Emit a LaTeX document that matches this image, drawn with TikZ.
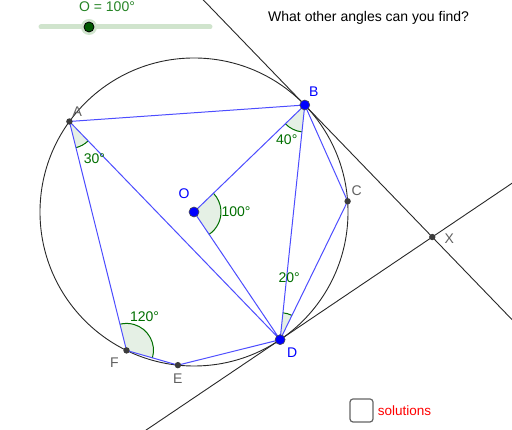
\documentclass[tikz,border=0pt]{standalone}
\usepackage{fontspec}
\setmainfont{Liberation Sans}
\usetikzlibrary{angles}
\definecolor{segblue}{RGB}{77,77,255}
\definecolor{ptblue}{RGB}{0,0,255}
\definecolor{lblgray}{RGB}{96,96,96}
\definecolor{ptgray}{RGB}{60,60,60}
\definecolor{lineblack}{RGB}{40,40,40}
\definecolor{anggreen}{RGB}{0,110,0}
\definecolor{angfill}{RGB}{229,240,229}
\definecolor{slidergreen}{RGB}{208,228,205}
\definecolor{knobgreen}{RGB}{0,90,0}
\definecolor{boxgray}{RGB}{100,100,100}
\begin{document}
\begin{tikzpicture}[x=1pt,y=1pt,
  every node/.style={font=\fontsize{14}{16}\selectfont,inner sep=0pt},
  seg/.style={segblue,line width=1pt},
  tangent/.style={lineblack,line width=0.9pt},
  wedge/.style={draw=anggreen,fill=angfill,line width=1pt,angle radius=27pt},
  anglabel/.style={text=anggreen},
  ptlabel/.style={text=lblgray},
  bluelabel/.style={text=ptblue},
  graydot/.style={fill=ptgray},
  bluedot/.style={fill=ptblue,draw=black!70,line width=0.6pt}]
  \useasboundingbox (0,0) rectangle (512,430);

  \coordinate (O) at (194,218);
  \path (O) ++(144:154pt) coordinate (A)
        (O) ++(44:154pt)  coordinate (B)
        (O) ++(4:154pt)   coordinate (C)
        (O) ++(-56:154pt) coordinate (D)
        (O) ++(-96:154pt) coordinate (E)
        (O) ++(-116:154pt) coordinate (F)
        (O) ++(-6:239.6pt) coordinate (X);
  \path (B) ++(134:150pt) coordinate (tb1)
        (B) ++(-46:300pt) coordinate (tb2)
        (D) ++(214:165pt) coordinate (td1)
        (D) ++(34:285pt)  coordinate (td2);

  \pic[wedge] {angle=F--A--D};
  \pic[wedge] {angle=D--O--B};
  \pic[wedge] {angle=O--B--D};
  \pic[wedge] {angle=C--D--B};
  \pic[wedge] {angle=E--F--A};

  \draw[tangent] (O) circle[radius=154pt];
  \draw[tangent] (tb1) -- (tb2);
  \draw[tangent] (td1) -- (td2);

  \draw[seg] (A) -- (B) (A) -- (D) (A) -- (F) (F) -- (E) (E) -- (D)
             (B) -- (D) (B) -- (C) (C) -- (D) (O) -- (B) (O) -- (D);

  \foreach \p in {A,C,E,F,X} \fill[graydot] (\p) circle[radius=3.2pt];
  \foreach \p in {B,D,O} \draw[bluedot] (\p) circle[radius=5pt];

  \node[ptlabel] (labA) at ([shift={(8,10)}]A) {A};
  \node[bluelabel] (labB) at ([shift={(9,13)}]B) {B};
  \node[ptlabel] (labC) at ([shift={(9,11)}]C) {C};
  \node[bluelabel] (labD) at ([shift={(12,-13)}]D) {D};
  \node[ptlabel] (labE) at ([shift={(0,-14)}]E) {E};
  \node[ptlabel] (labF) at ([shift={(-12,-12)}]F) {F};
  \node[ptlabel] (labX) at ([shift={(17,-2)}]X) {X};
  \node[bluelabel] (labO) at ([shift={(-10,18)}]O) {O};

  \node[anglabel] (angA) at ([shift={(25,-37)}]A) {30°};
  \node[anglabel] (angO) at ([shift={(42,0)}]O) {100°};
  \node[anglabel] (angB) at ([shift={(-18,-35)}]B) {40°};
  \node[anglabel] (angF) at ([shift={(18,34)}]F) {120°};
  \node[anglabel] (angD) at ([shift={(9,62)}]D) {20°};

  \coordinate (slidestart) at (41,403);
  \coordinate (slideend) at (210,403);
  \coordinate (knob) at (89,403);
  \draw[slidergreen,line width=5pt,line cap=round] (slidestart) -- (slideend);
  \fill[slidergreen] (knob) circle[radius=8pt];
  \draw[fill=knobgreen,draw=black,line width=0.8pt] (knob) circle[radius=5pt];
  \node[text=anggreen!85!white] (slidelabel) at (107,423) {O = 100°};

  \node[anchor=west] (question) at (268,412) {What other angles can you find?};

  \node[draw=boxgray,rounded corners=3pt,minimum size=23pt,line width=1.2pt] (box) at (361.5,19.5) {};
  \node[anchor=west,text=red,font=\fontsize{13.5}{15}\selectfont] (sol) at ([xshift=4pt]box.east) {solutions};
\end{tikzpicture}
\end{document}
